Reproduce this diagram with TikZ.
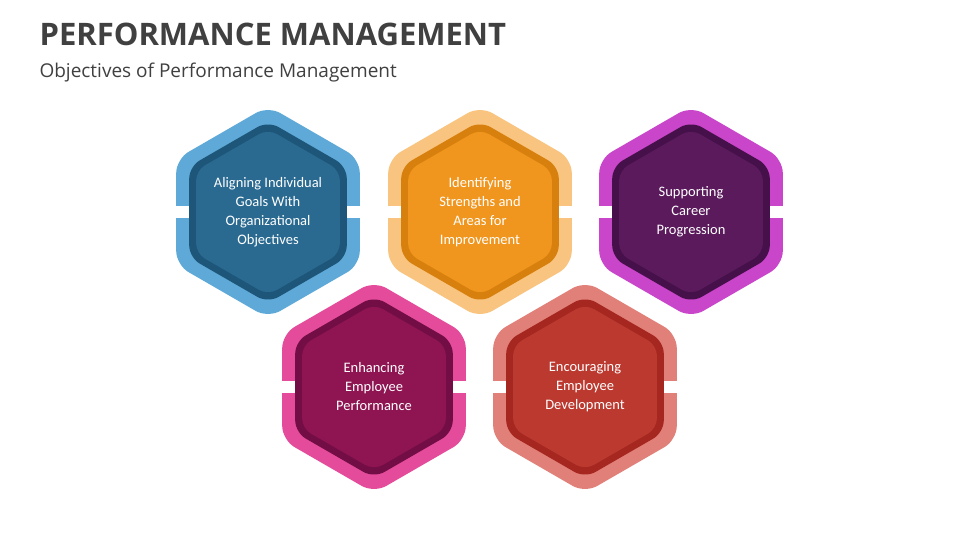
\documentclass[tikz,border=0pt]{standalone}
\usepackage{fontspec}
\setmainfont{Open Sans}
\newfontfamily\lab{Carlito}
\begin{document}
\begin{tikzpicture}[x=1pt,y=-1pt]
\useasboundingbox (0,0) rectangle (960,540);
\fill[white] (0,0) rectangle (960,540);
\tikzset{lbl/.style={text=white,align=center,font=\lab\fontsize{14.5}{19}\selectfont}}
\newcommand\hexa[6]{% x y light border fill text
  \fill[#3,rounded corners=14pt] (#1,#2-106) -- (#1+91.8,#2-53) -- (#1+91.8,#2+53) -- (#1,#2+106) -- (#1-91.8,#2+53) -- (#1-91.8,#2-53) -- cycle;
  \fill[white] (#1-95,#2-6) rectangle (#1+95,#2+6);
  \fill[#4,rounded corners=12pt] (#1,#2-91) -- (#1+78.8,#2-45.5) -- (#1+78.8,#2+45.5) -- (#1,#2+91) -- (#1-78.8,#2+45.5) -- (#1-78.8,#2-45.5) -- cycle;
  \fill[#5,rounded corners=10pt] (#1,#2-83) -- (#1+71.9,#2-41.5) -- (#1+71.9,#2+41.5) -- (#1,#2+83) -- (#1-71.9,#2+41.5) -- (#1-71.9,#2-41.5) -- cycle;
  \node[lbl] (#6) at (#1,#2) {};
}
\definecolor{bL}{HTML}{5EA9D7}\definecolor{bD}{HTML}{1D5679}\definecolor{bF}{HTML}{2A6A91}
\definecolor{oL}{HTML}{F8C47F}\definecolor{oD}{HTML}{D8800E}\definecolor{oF}{HTML}{F0961F}
\definecolor{pL}{HTML}{C945C9}\definecolor{pD}{HTML}{46104A}\definecolor{pF}{HTML}{5A1A5C}
\definecolor{kL}{HTML}{E44C9B}\definecolor{kD}{HTML}{730D45}\definecolor{kF}{HTML}{8E1552}
\definecolor{rL}{HTML}{E17F79}\definecolor{rD}{HTML}{A5271F}\definecolor{rF}{HTML}{BC3930}
\hexa{268}{212}{bL}{bD}{bF}{h1}
\hexa{480}{212}{oL}{oD}{oF}{h2}
\hexa{691}{212}{pL}{pD}{pF}{h3}
\hexa{374}{387}{kL}{kD}{kF}{h4}
\hexa{585}{387}{rL}{rD}{rF}{h5}
\node[lbl] (t1) at (268,212) {Aligning Individual\\Goals With\\Organizational\\Objectives};
\node[lbl] (t2) at (480,212) {Identifying\\Strengths and\\Areas for\\Improvement};
\node[lbl] (t3) at (691,212) {Supporting\\Career\\Progression};
\node[lbl] (t4) at (374,387) {Enhancing\\Employee\\Performance};
\node[lbl] (t5) at (585,387) {Encouraging\\Employee\\Development};
\node[anchor=west,text=black!75,font=\bfseries\fontsize{31}{36}\selectfont] (title) at (36,34) {PERFORMANCE MANAGEMENT};
\node[anchor=west,text=black!75,font=\fontsize{19}{23}\selectfont] (sub) at (36,73) {Objectives of Performance Management};
\end{tikzpicture}
\end{document}
